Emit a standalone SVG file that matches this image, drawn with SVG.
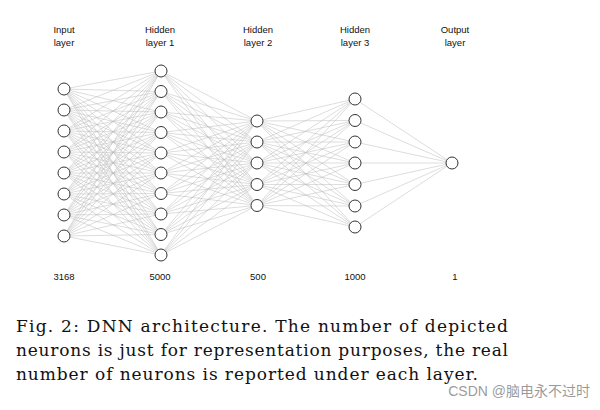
<svg xmlns="http://www.w3.org/2000/svg" width="600" height="410" viewBox="0 0 600 410">
<style>
.n{fill:#fff;stroke:#333;stroke-width:1}
.c{fill:none;stroke:#bbb;stroke-width:0.5}
.l{font-family:"Liberation Sans",Arial,sans-serif;font-size:9.5px;fill:#111;text-anchor:middle}
.cap{font-family:"DejaVu Serif","Liberation Serif",serif;font-size:17px;fill:#111}
</style>
<rect width="600" height="410" fill="#fff"/>
<g id="connectors" class="c">
<path d="M64 89L161 71M64 89L161 91.5M64 89L161 112M64 89L161 132.5M64 89L161 153M64 89L161 173M64 89L161 193.5M64 89L161 214M64 89L161 234.5M64 89L161 255
M64 110L161 71M64 110L161 91.5M64 110L161 112M64 110L161 132.5M64 110L161 153M64 110L161 173M64 110L161 193.5M64 110L161 214M64 110L161 234.5M64 110L161 255
M64 131L161 71M64 131L161 91.5M64 131L161 112M64 131L161 132.5M64 131L161 153M64 131L161 173M64 131L161 193.5M64 131L161 214M64 131L161 234.5M64 131L161 255
M64 152L161 71M64 152L161 91.5M64 152L161 112M64 152L161 132.5M64 152L161 153M64 152L161 173M64 152L161 193.5M64 152L161 214M64 152L161 234.5M64 152L161 255
M64 173L161 71M64 173L161 91.5M64 173L161 112M64 173L161 132.5M64 173L161 153M64 173L161 173M64 173L161 193.5M64 173L161 214M64 173L161 234.5M64 173L161 255
M64 194L161 71M64 194L161 91.5M64 194L161 112M64 194L161 132.5M64 194L161 153M64 194L161 173M64 194L161 193.5M64 194L161 214M64 194L161 234.5M64 194L161 255
M64 215L161 71M64 215L161 91.5M64 215L161 112M64 215L161 132.5M64 215L161 153M64 215L161 173M64 215L161 193.5M64 215L161 214M64 215L161 234.5M64 215L161 255
M64 236L161 71M64 236L161 91.5M64 236L161 112M64 236L161 132.5M64 236L161 153M64 236L161 173M64 236L161 193.5M64 236L161 214M64 236L161 234.5M64 236L161 255"/>
<path d="M161 71L257 121M161 71L257 142M161 71L257 163M161 71L257 184.5M161 71L257 205.5
M161 91.5L257 121M161 91.5L257 142M161 91.5L257 163M161 91.5L257 184.5M161 91.5L257 205.5
M161 112L257 121M161 112L257 142M161 112L257 163M161 112L257 184.5M161 112L257 205.5
M161 132.5L257 121M161 132.5L257 142M161 132.5L257 163M161 132.5L257 184.5M161 132.5L257 205.5
M161 153L257 121M161 153L257 142M161 153L257 163M161 153L257 184.5M161 153L257 205.5
M161 173L257 121M161 173L257 142M161 173L257 163M161 173L257 184.5M161 173L257 205.5
M161 193.5L257 121M161 193.5L257 142M161 193.5L257 163M161 193.5L257 184.5M161 193.5L257 205.5
M161 214L257 121M161 214L257 142M161 214L257 163M161 214L257 184.5M161 214L257 205.5
M161 234.5L257 121M161 234.5L257 142M161 234.5L257 163M161 234.5L257 184.5M161 234.5L257 205.5
M161 255L257 121M161 255L257 142M161 255L257 163M161 255L257 184.5M161 255L257 205.5"/>
<path d="M257 121L355 99M257 121L355 120.5M257 121L355 142M257 121L355 163M257 121L355 184.5M257 121L355 206M257 121L355 227
M257 142L355 99M257 142L355 120.5M257 142L355 142M257 142L355 163M257 142L355 184.5M257 142L355 206M257 142L355 227
M257 163L355 99M257 163L355 120.5M257 163L355 142M257 163L355 163M257 163L355 184.5M257 163L355 206M257 163L355 227
M257 184.5L355 99M257 184.5L355 120.5M257 184.5L355 142M257 184.5L355 163M257 184.5L355 184.5M257 184.5L355 206M257 184.5L355 227
M257 205.5L355 99M257 205.5L355 120.5M257 205.5L355 142M257 205.5L355 163M257 205.5L355 184.5M257 205.5L355 206M257 205.5L355 227"/>
<path d="M355 99L452 163M355 120.5L452 163M355 142L452 163M355 163L452 163M355 184.5L452 163M355 206L452 163M355 227L452 163"/>
</g>
<g id="input-layer" class="n">
<circle cx="64" cy="89" r="6"/><circle cx="64" cy="110" r="6"/><circle cx="64" cy="131" r="6"/><circle cx="64" cy="152" r="6"/><circle cx="64" cy="173" r="6"/><circle cx="64" cy="194" r="6"/><circle cx="64" cy="215" r="6"/><circle cx="64" cy="236" r="6"/>
</g>
<g id="hidden-layer-1" class="n">
<circle cx="161" cy="71" r="6"/><circle cx="161" cy="91.5" r="6"/><circle cx="161" cy="112" r="6"/><circle cx="161" cy="132.5" r="6"/><circle cx="161" cy="153" r="6"/><circle cx="161" cy="173" r="6"/><circle cx="161" cy="193.5" r="6"/><circle cx="161" cy="214" r="6"/><circle cx="161" cy="234.5" r="6"/><circle cx="161" cy="255" r="6"/>
</g>
<g id="hidden-layer-2" class="n">
<circle cx="257" cy="121" r="6"/><circle cx="257" cy="142" r="6"/><circle cx="257" cy="163" r="6"/><circle cx="257" cy="184.5" r="6"/><circle cx="257" cy="205.5" r="6"/>
</g>
<g id="hidden-layer-3" class="n">
<circle cx="355" cy="99" r="6"/><circle cx="355" cy="120.5" r="6"/><circle cx="355" cy="142" r="6"/><circle cx="355" cy="163" r="6"/><circle cx="355" cy="184.5" r="6"/><circle cx="355" cy="206" r="6"/><circle cx="355" cy="227" r="6"/>
</g>
<g id="output-layer" class="n">
<circle cx="452" cy="163" r="6"/>
</g>
<g id="labels" class="l">
<text x="64" y="33">Input</text><text x="64" y="46">layer</text>
<text x="160" y="33">Hidden</text><text x="160" y="46">layer 1</text>
<text x="258" y="33">Hidden</text><text x="258" y="46">layer 2</text>
<text x="355" y="33">Hidden</text><text x="355" y="46">layer 3</text>
<text x="455" y="33">Output</text><text x="455" y="46">layer</text>
<text x="64" y="280">3168</text><text x="160" y="280">5000</text><text x="258" y="280">500</text><text x="355" y="280">1000</text><text x="455" y="280">1</text>
</g>
<g id="caption" class="cap">
<text x="16" y="332" textLength="492" lengthAdjust="spacing">Fig. 2: DNN architecture. The number of depicted</text>
<text x="16" y="356" textLength="492" lengthAdjust="spacing">neurons is just for representation purposes, the real</text>
<text x="16" y="380" textLength="462" lengthAdjust="spacing">number of neurons is reported under each layer.</text>
</g>
<text x="590" y="396" text-anchor="end" font-family="'Liberation Sans','Noto Sans CJK SC',sans-serif" font-size="14" fill="#888" fill-opacity="0.85">CSDN @脑电永不过时</text>
</svg>
